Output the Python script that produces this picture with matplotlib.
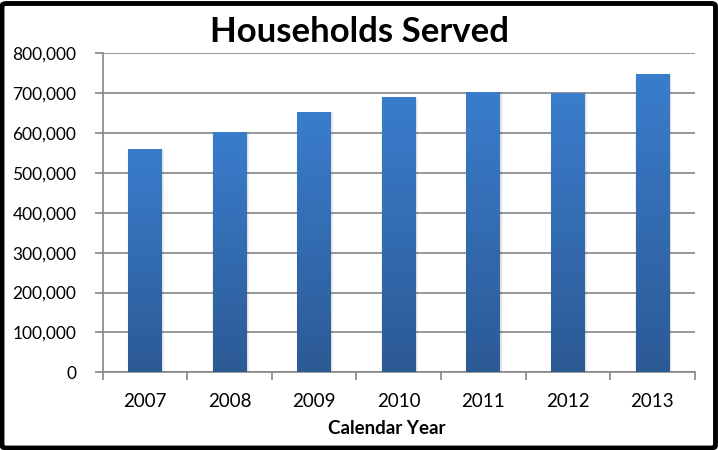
import matplotlib
matplotlib.use("Agg")
import matplotlib.pyplot as plt
import numpy as np
from matplotlib.patches import FancyBboxPatch
from matplotlib.colors import LinearSegmentedColormap
from matplotlib.ticker import FuncFormatter, FixedLocator

years = ["2007", "2008", "2009", "2010", "2011", "2012", "2013"]
households = [560000, 602000, 652000, 690000, 703000, 700000, 748000]

title = "Households Served"
xlabel = "Calendar Year"

plt.rcParams['font.family'] = ['Lato', 'DejaVu Sans']

fig = plt.figure(figsize=(7.18, 4.5), dpi=100)
ax = fig.add_axes([102.7/718, 1-372.3/450, (694.7-102.7)/718, (372.3-53.3)/450])

x = np.arange(len(years))
bars = ax.bar(x, households, width=0.4, color='none', edgecolor='none', zorder=3)

cmap = LinearSegmentedColormap.from_list("g", ["#2C5A95", "#3A7DCD"])
grad = np.linspace(0, 1, 256).reshape(-1, 1)
for b in bars:
    x0, w, h = b.get_x(), b.get_width(), b.get_height()
    # soft shadow
    for i, a in enumerate([0.06, 0.04, 0.02]):
        d = 0.012 * (i + 1)
        ax.add_patch(plt.Rectangle((x0 - d*0.6 + 0.01, 0), w + 2*d*0.6, h + d*12000,
                                   color='black', alpha=a, lw=0, zorder=2))
    im = ax.imshow(grad, extent=[x0, x0 + w, 0, h], origin='lower', cmap=cmap,
                   aspect='auto', zorder=3)
    im.set_clip_path(b)

ax.set_xlim(-0.5, len(years) - 0.5)
ax.set_ylim(0, 800000)
ax.set_yticks(np.arange(0, 800001, 100000))
ax.yaxis.set_major_formatter(FuncFormatter(lambda v, p: f"{int(v):,}"))
ax.set_xticks(x)
ax.set_xticklabels(years)
ax.xaxis.set_minor_locator(FixedLocator(np.arange(-0.5, len(years), 1)))

ax.grid(axis='y', color='#868686', lw=1.2, zorder=1)
for s in ['top', 'right']:
    ax.spines[s].set_visible(False)
for s in ['left', 'bottom']:
    ax.spines[s].set_color('#868686')
    ax.spines[s].set_linewidth(1.2)

ax.tick_params(axis='y', length=6, width=1.2, color='#868686', labelsize=12.5, pad=13, labelcolor='black')
ax.tick_params(axis='x', which='major', length=0, labelsize=13.5, pad=15, labelcolor='black')
ax.tick_params(axis='x', which='minor', length=6, width=1.2, color='#868686')

ax.set_xlabel(xlabel, fontsize=13.5, fontweight='bold', labelpad=7)
ax.xaxis.set_label_coords((387 - 102.7) / 592.0, -(428 - 372.3) / 319.0)
ax.xaxis.label.set_va('center')
fig.text(0.5, 1-32/450, title, ha='center', va='center', fontsize=25, fontweight='bold')

# border
fig.patches.append(FancyBboxPatch((2/718, 2/450), 1-4.5/718, 1-5.5/450,
                                  boxstyle="round,pad=0,rounding_size=0.006",
                                  transform=fig.transFigure, fill=False,
                                  edgecolor='black', lw=3.5))

fig.savefig("out.png", dpi=100)
